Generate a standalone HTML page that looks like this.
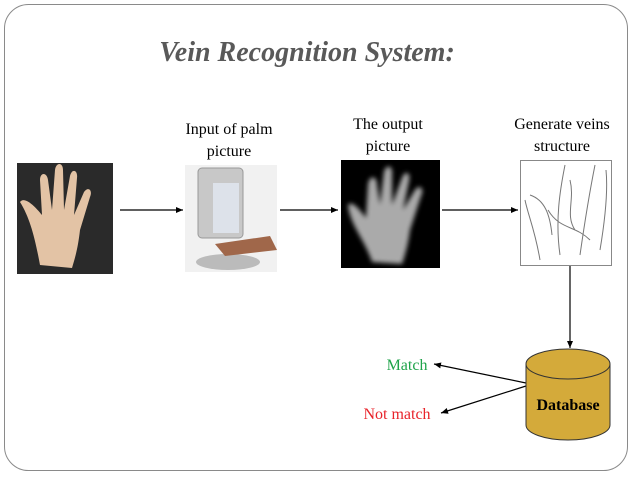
<!DOCTYPE html>
<html><head><meta charset="utf-8"><style>
html,body{margin:0;padding:0;background:#fff;width:638px;height:478px;overflow:hidden}
</style></head><body>
<svg width="638" height="478" viewBox="0 0 638 478" xmlns="http://www.w3.org/2000/svg" font-family="'Liberation Serif','DejaVu Serif',serif">
<defs>
<marker id="a" markerWidth="8" markerHeight="8" refX="7" refY="4" orient="auto" markerUnits="userSpaceOnUse">
<path d="M0,1 L7,4 L0,7 Z" fill="#000"/></marker>
<filter id="b"><feGaussianBlur stdDeviation="2.5"/></filter>
</defs>
<rect x="4.5" y="4.5" width="623" height="466" rx="24" fill="#fff" stroke="#8a8a8a" stroke-width="1"/>
<text x="307" y="61" font-size="28" font-weight="bold" font-style="italic" fill="#595959" text-anchor="middle" font-family="'Liberation Serif',serif">Vein Recognition System:</text>
<g font-size="16" fill="#000" text-anchor="middle" font-family="'Liberation Serif',serif">
<text x="229" y="134">Input of palm</text><text x="229" y="156">picture</text>
<text x="388" y="129">The output</text><text x="388" y="151">picture</text>
<text x="562" y="129">Generate veins</text><text x="562" y="151">structure</text>
</g>
<rect x="17" y="163" width="96" height="111" fill="#2a2a2a"/>
<path d="M40,265 C35,238 30,218 20,202 C24,196 34,205 42,215 L40,180 C40,172 47,172 48,180 L52,210 L55,170 C56,162 63,162 63,170 L64,210 L70,176 C72,168 78,170 77,178 L74,215 L84,192 C88,186 93,190 90,197 L80,230 C78,248 75,258 72,268 Z" fill="#e3c3a5"/>
<rect x="185" y="165" width="92" height="107" fill="#f1f1f1"/>
<rect x="198" y="168" width="45" height="70" rx="4" fill="#c8c8c8" stroke="#999"/>
<rect x="213" y="183" width="26" height="50" fill="#dde2ea"/>
<ellipse cx="228" cy="262" rx="32" ry="8" fill="#bbb"/>
<path d="M215,244 L270,236 L277,250 L225,256 Z" fill="#a0674a"/>
<rect x="341" y="160" width="99" height="108" fill="#000"/>
<path d="M372,262 C365,240 350,225 348,205 C352,200 360,210 366,218 L368,185 C369,175 377,175 377,185 L380,205 L384,172 C386,164 393,165 392,174 L392,205 L402,178 C405,170 411,172 409,181 L403,210 L415,190 C419,184 425,188 421,196 L410,230 C408,245 405,255 402,264 Z" fill="#aaa" filter="url(#b)"/>
<rect x="520.5" y="160.5" width="91" height="105" fill="#fff" stroke="#888"/>
<path d="M540,260 C535,230 528,215 525,200 M560,255 C555,220 560,190 565,165 M580,255 C585,220 590,190 595,165 M600,250 C605,220 608,190 606,170 M548,210 C560,230 575,225 590,240 M530,195 C545,200 550,215 552,235 M570,180 C575,200 565,215 575,230" stroke="#777" fill="none" stroke-width="1"/>
<g stroke="#000" stroke-width="1.2">
<line x1="120" y1="210" x2="183" y2="210" marker-end="url(#a)"/>
<line x1="280" y1="210" x2="338" y2="210" marker-end="url(#a)"/>
<line x1="442" y1="210" x2="518" y2="210" marker-end="url(#a)"/>
<line x1="570" y1="266" x2="570" y2="348" marker-end="url(#a)"/>
<line x1="526" y1="383" x2="434" y2="364" marker-end="url(#a)"/>
<line x1="526" y1="386" x2="441" y2="413" marker-end="url(#a)"/>
</g>
<path d="M526,364 L526,425 A42,15 0 0 0 610,425 L610,364" fill="#d4aa3a" stroke="#333" stroke-width="1"/>
<ellipse cx="568" cy="364" rx="42" ry="15" fill="#d4aa3a" stroke="#333" stroke-width="1"/>
<text x="568" y="410" font-size="16" font-weight="bold" text-anchor="middle" fill="#000">Database</text>
<text x="407" y="370" font-size="16" fill="#1fa34a" text-anchor="middle">Match</text>
<text x="397" y="419" font-size="16" fill="#e8232a" text-anchor="middle">Not match</text>
</svg>
</body></html>
